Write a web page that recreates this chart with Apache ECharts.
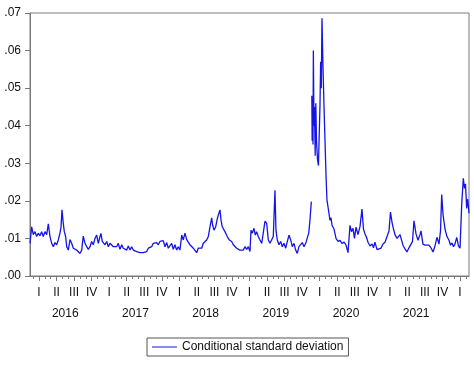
<!DOCTYPE html>
<html>
<head>
<meta charset="utf-8">
<script src="https://cdn.jsdelivr.net/npm/echarts@6/dist/echarts.min.js"></script>
<style>
html,body{margin:0;padding:0;background:#fff;}
#chart{width:474px;height:374px;}
</style>
</head>
<body>
<div id="chart"></div>
<script>
// Time as decimal year, values of conditional standard deviation (null = gap)
const years = [
2015.872,2015.896,2015.919,2015.943,2015.967,2015.990,2016.014,2016.038,2016.061,2016.086,
2016.110,2016.133,2016.157,2016.181,2016.204,2016.228,2016.252,2016.275,2016.299,2016.314,
2016.328,2016.346,2016.361,2016.380,2016.395,2016.418,2016.442,2016.466,2016.489,2016.513,
2016.537,2016.560,2016.584,2016.609,2016.631,2016.656,2016.680,2016.703,2016.727,2016.751,
2016.774,2016.798,2016.822,2016.845,2016.869,2016.884,2016.902,2016.916,2016.941,2016.965,
2016.988,2017.012,2017.036,2017.059,2017.083,2017.107,2017.130,2017.154,2017.179,2017.201,
2017.226,2017.250,2017.273,2017.297,2017.321,2017.344,2017.368,2017.392,2017.415,2017.439,
2017.464,2017.486,2017.511,2017.535,2017.558,2017.582,2017.606,2017.629,2017.653,2017.677,
2017.700,2017.724,2017.749,2017.771,2017.796,2017.820,2017.843,2017.867,2017.891,2017.914,
2017.938,2017.962,2017.985,2018.009,2018.034,2018.056,2018.081,2018.105,2018.128,2018.152,
2018.176,2018.199,2018.223,2018.247,2018.270,2018.294,2018.319,2018.341,2018.366,2018.390,
2018.413,2018.437,2018.461,2018.475,2018.494,2018.518,2018.537,2018.555,2018.579,2018.594,
2018.612,2018.636,2018.661,2018.683,2018.712,2018.746,2018.769,2018.793,2018.817,2018.840,
2018.864,2018.889,2018.911,2018.936,2018.960,2018.983,2019.007,2019.021,2019.040,2019.064,
2019.083,2019.102,2019.125,2019.149,2019.174,2019.196,2019.221,2019.245,2019.268,2019.292,
2019.316,2019.339,2019.363,2019.377,2019.396,2019.420,2019.444,2019.467,2019.491,2019.516,
2019.539,2019.563,2019.587,2019.610,2019.634,2019.658,2019.681,2019.705,2019.730,2019.752,
2019.777,2019.801,2019.824,2019.844,2019.862,2019.881,2019.885,2019.888,2019.893,2019.899,
2019.905,2019.910,2019.919,2019.926,2019.936,2019.945,2019.955,2019.969,2019.983,2019.994,
2020.004,2020.014,2020.023,2020.033,2020.047,2020.062,2020.076,2020.090,2020.104,2020.126,
2020.147,2020.161,2020.176,2020.204,2020.233,2020.261,2020.290,2020.318,2020.347,2020.375,
2020.404,2020.432,2020.453,2020.475,2020.496,2020.518,2020.546,2020.575,2020.603,2020.624,
2020.646,2020.667,2020.689,2020.717,2020.746,2020.767,2020.788,2020.817,2020.845,2020.874,
2020.902,2020.931,2020.959,2020.988,2021.009,2021.031,2021.052,2021.073,2021.102,2021.123,
2021.145,2021.166,2021.187,2021.216,2021.244,2021.273,2021.301,2021.323,2021.344,2021.373,
2021.401,2021.430,2021.444,2021.472,2021.501,2021.529,2021.558,2021.586,2021.615,2021.643,
2021.672,2021.700,2021.722,2021.739,2021.757,2021.786,2021.814,2021.843,2021.864,2021.886,
2021.907,2021.928,2021.953,2021.978,2022.000,2022.024,2022.047,2022.064,2022.078,2022.095,
2022.110,2022.128
];
const values = [
0.0087,0.0131,0.0110,0.0118,0.0105,0.0114,0.0107,0.0118,0.0105,0.0118,
0.0110,0.0139,0.0105,0.0087,0.0078,0.0089,0.0083,0.0096,0.0114,0.0130,
0.0176,0.0140,0.0118,0.0105,0.0078,0.0069,0.0097,0.0087,0.0074,0.0078,
0.0069,0.0065,0.0060,0.0069,0.0106,0.0087,0.0078,0.0071,0.0078,0.0092,
0.0083,0.0100,0.0109,0.0087,0.0105,0.0113,0.0092,0.0096,0.0083,0.0092,
0.0078,0.0087,0.0089,0.0078,0.0083,0.0078,0.0087,0.0071,0.0083,0.0074,
0.0078,0.0069,0.0080,0.0069,0.0078,0.0069,0.0074,0.0065,0.0069,0.0062,
0.0065,0.0062,0.0067,0.0065,0.0074,0.0069,0.0078,0.0087,0.0083,0.0089,
0.0083,0.0092,0.0087,0.0094,0.0078,0.0089,0.0074,0.0074,0.0087,0.0071,
0.0083,0.0069,0.0078,0.0069,0.0109,0.0096,0.0114,0.0097,0.0092,0.0083,
0.0087,0.0074,0.0069,0.0062,0.0074,0.0078,0.0074,0.0087,0.0092,0.0096,
0.0105,0.0131,0.0155,0.0135,0.0122,0.0131,0.0149,0.0162,0.0176,0.0149,
0.0131,0.0127,0.0114,0.0105,0.0096,0.0092,0.0083,0.0087,0.0074,0.0078,
0.0069,0.0074,0.0069,0.0078,0.0071,0.0078,0.0065,0.0122,0.0114,0.0127,
0.0109,0.0118,0.0105,0.0096,0.0087,0.0092,0.0146,0.0140,0.0096,0.0087,
0.0092,0.0105,0.0228,0.0122,0.0096,0.0083,0.0092,0.0078,0.0087,0.0074,
0.0092,0.0109,0.0096,0.0078,0.0087,0.0069,0.0060,0.0078,0.0083,0.0089,
0.0078,0.0087,0.0083,0.0114,0.0149,0.0198,null,0.0480,0.0360,0.0450,
0.0350,0.0600,0.0400,0.0450,0.0320,0.0460,0.0360,0.0310,0.0294,0.0380,
0.0450,0.0570,0.0500,0.0686,0.0560,0.0450,0.0360,0.0270,0.0202,0.0175,
0.0148,0.0155,0.0135,0.0125,0.0100,0.0092,0.0095,0.0087,0.0090,0.0083,
0.0062,0.0135,0.0118,0.0127,0.0100,0.0130,0.0110,0.0132,0.0178,0.0125,
0.0112,0.0103,0.0090,0.0080,0.0085,0.0075,0.0090,0.0070,0.0065,0.0074,
0.0085,0.0090,0.0095,0.0120,0.0170,0.0143,0.0125,0.0110,0.0100,0.0098,
0.0110,0.0115,0.0082,0.0072,0.0064,0.0075,0.0080,0.0092,0.0147,0.0112,
0.0095,0.0110,0.0120,0.0085,0.0082,0.0078,0.0082,0.0075,0.0064,0.0080,
0.0103,0.0085,0.0120,0.0217,0.0165,0.0125,0.0105,0.0095,0.0082,0.0088,
0.0078,0.0085,0.0103,0.0080,0.0074,0.0190,0.0260,0.0233,0.0245,0.0180,
0.0205,0.0167
];
const yTicks = [0, 0.01, 0.02, 0.03, 0.04, 0.05, 0.06, 0.07];
const quarterNames = ['I', 'II', 'III', 'IV'];
const yearLabels = [2016, 2017, 2018, 2019, 2020, 2021];
const seriesName = 'Conditional standard deviation';

const xMin = 2015.872, xMax = 2022.128;
const monthTicks = [];
for (let k = -1; k <= 73; k++) { const v = 2016 + k / 12; if (v >= xMin && v <= xMax) monthTicks.push(v); }
const quarterTicks = [];
for (let k = 0; k <= 24; k++) { const v = 2016 + k / 4; if (v >= xMin && v <= xMax) quarterTicks.push(v); }
const yearCenters = yearLabels.map(y => y + 0.375);

const data = years.map((x, i) => [x, values[i] === null ? '-' : values[i]]);
const font = "'Liberation Sans', Arial, sans-serif";
const gray = '#7a7a7a';

const chart = echarts.init(document.getElementById('chart'), null, {renderer: 'canvas'});
chart.setOption({
  animation: false,
  backgroundColor: '#fff',
  grid: {left: 30, right: 5, top: 13, bottom: 98, show: true, borderColor: gray, borderWidth: 1},
  legend: {
    data: [seriesName], left: 147, top: 338, orient: 'horizontal',
    itemWidth: 25, itemHeight: 1, icon: 'rect', itemGap: 5,
    padding: [3, 5, 3, 5], borderColor: '#555', borderWidth: 1,
    textStyle: {fontFamily: font, fontSize: 12, color: '#111'}
  },
  xAxis: [
    {
      type: 'value', min: xMin, max: xMax,
      splitLine: {show: false},
      axisLine: {show: true, onZero: false, lineStyle: {color: gray, width: 1}},
      axisTick: {show: true, customValues: monthTicks, length: 3, lineStyle: {color: gray}},
      axisLabel: {
        customValues: quarterTicks, margin: 11,
        fontFamily: font, fontSize: 12, color: '#111',
        formatter: v => quarterNames[Math.round((v - Math.floor(v + 1e-6)) * 4) % 4]
      }
    },
    {
      type: 'value', min: xMin, max: xMax, position: 'bottom',
      splitLine: {show: false},
      axisLine: {show: false},
      axisTick: {show: true, customValues: quarterTicks, length: 5, lineStyle: {color: gray}},
      axisLabel: {
        customValues: yearCenters, margin: 32,
        fontFamily: font, fontSize: 12, color: '#111',
        formatter: v => String(Math.floor(v))
      }
    }
  ],
  yAxis: {
    type: 'value', min: 0, max: 0.07, interval: 0.01,
    splitLine: {show: false},
    axisLine: {show: true, onZero: false, lineStyle: {color: gray, width: 1}},
    axisTick: {show: true, length: 5, lineStyle: {color: gray}},
    axisLabel: {
      margin: 9, fontFamily: font, fontSize: 12, color: '#111',
      formatter: v => v.toFixed(2).replace(/^0/, '')
    }
  },
  series: [{
    name: seriesName, type: 'line', data: data, showSymbol: false, symbol: 'none',
    connectNulls: false,
    lineStyle: {color: '#1414e6', width: 1.3},
    itemStyle: {color: '#1414e6'}
  }]
});
</script>
</body>
</html>
